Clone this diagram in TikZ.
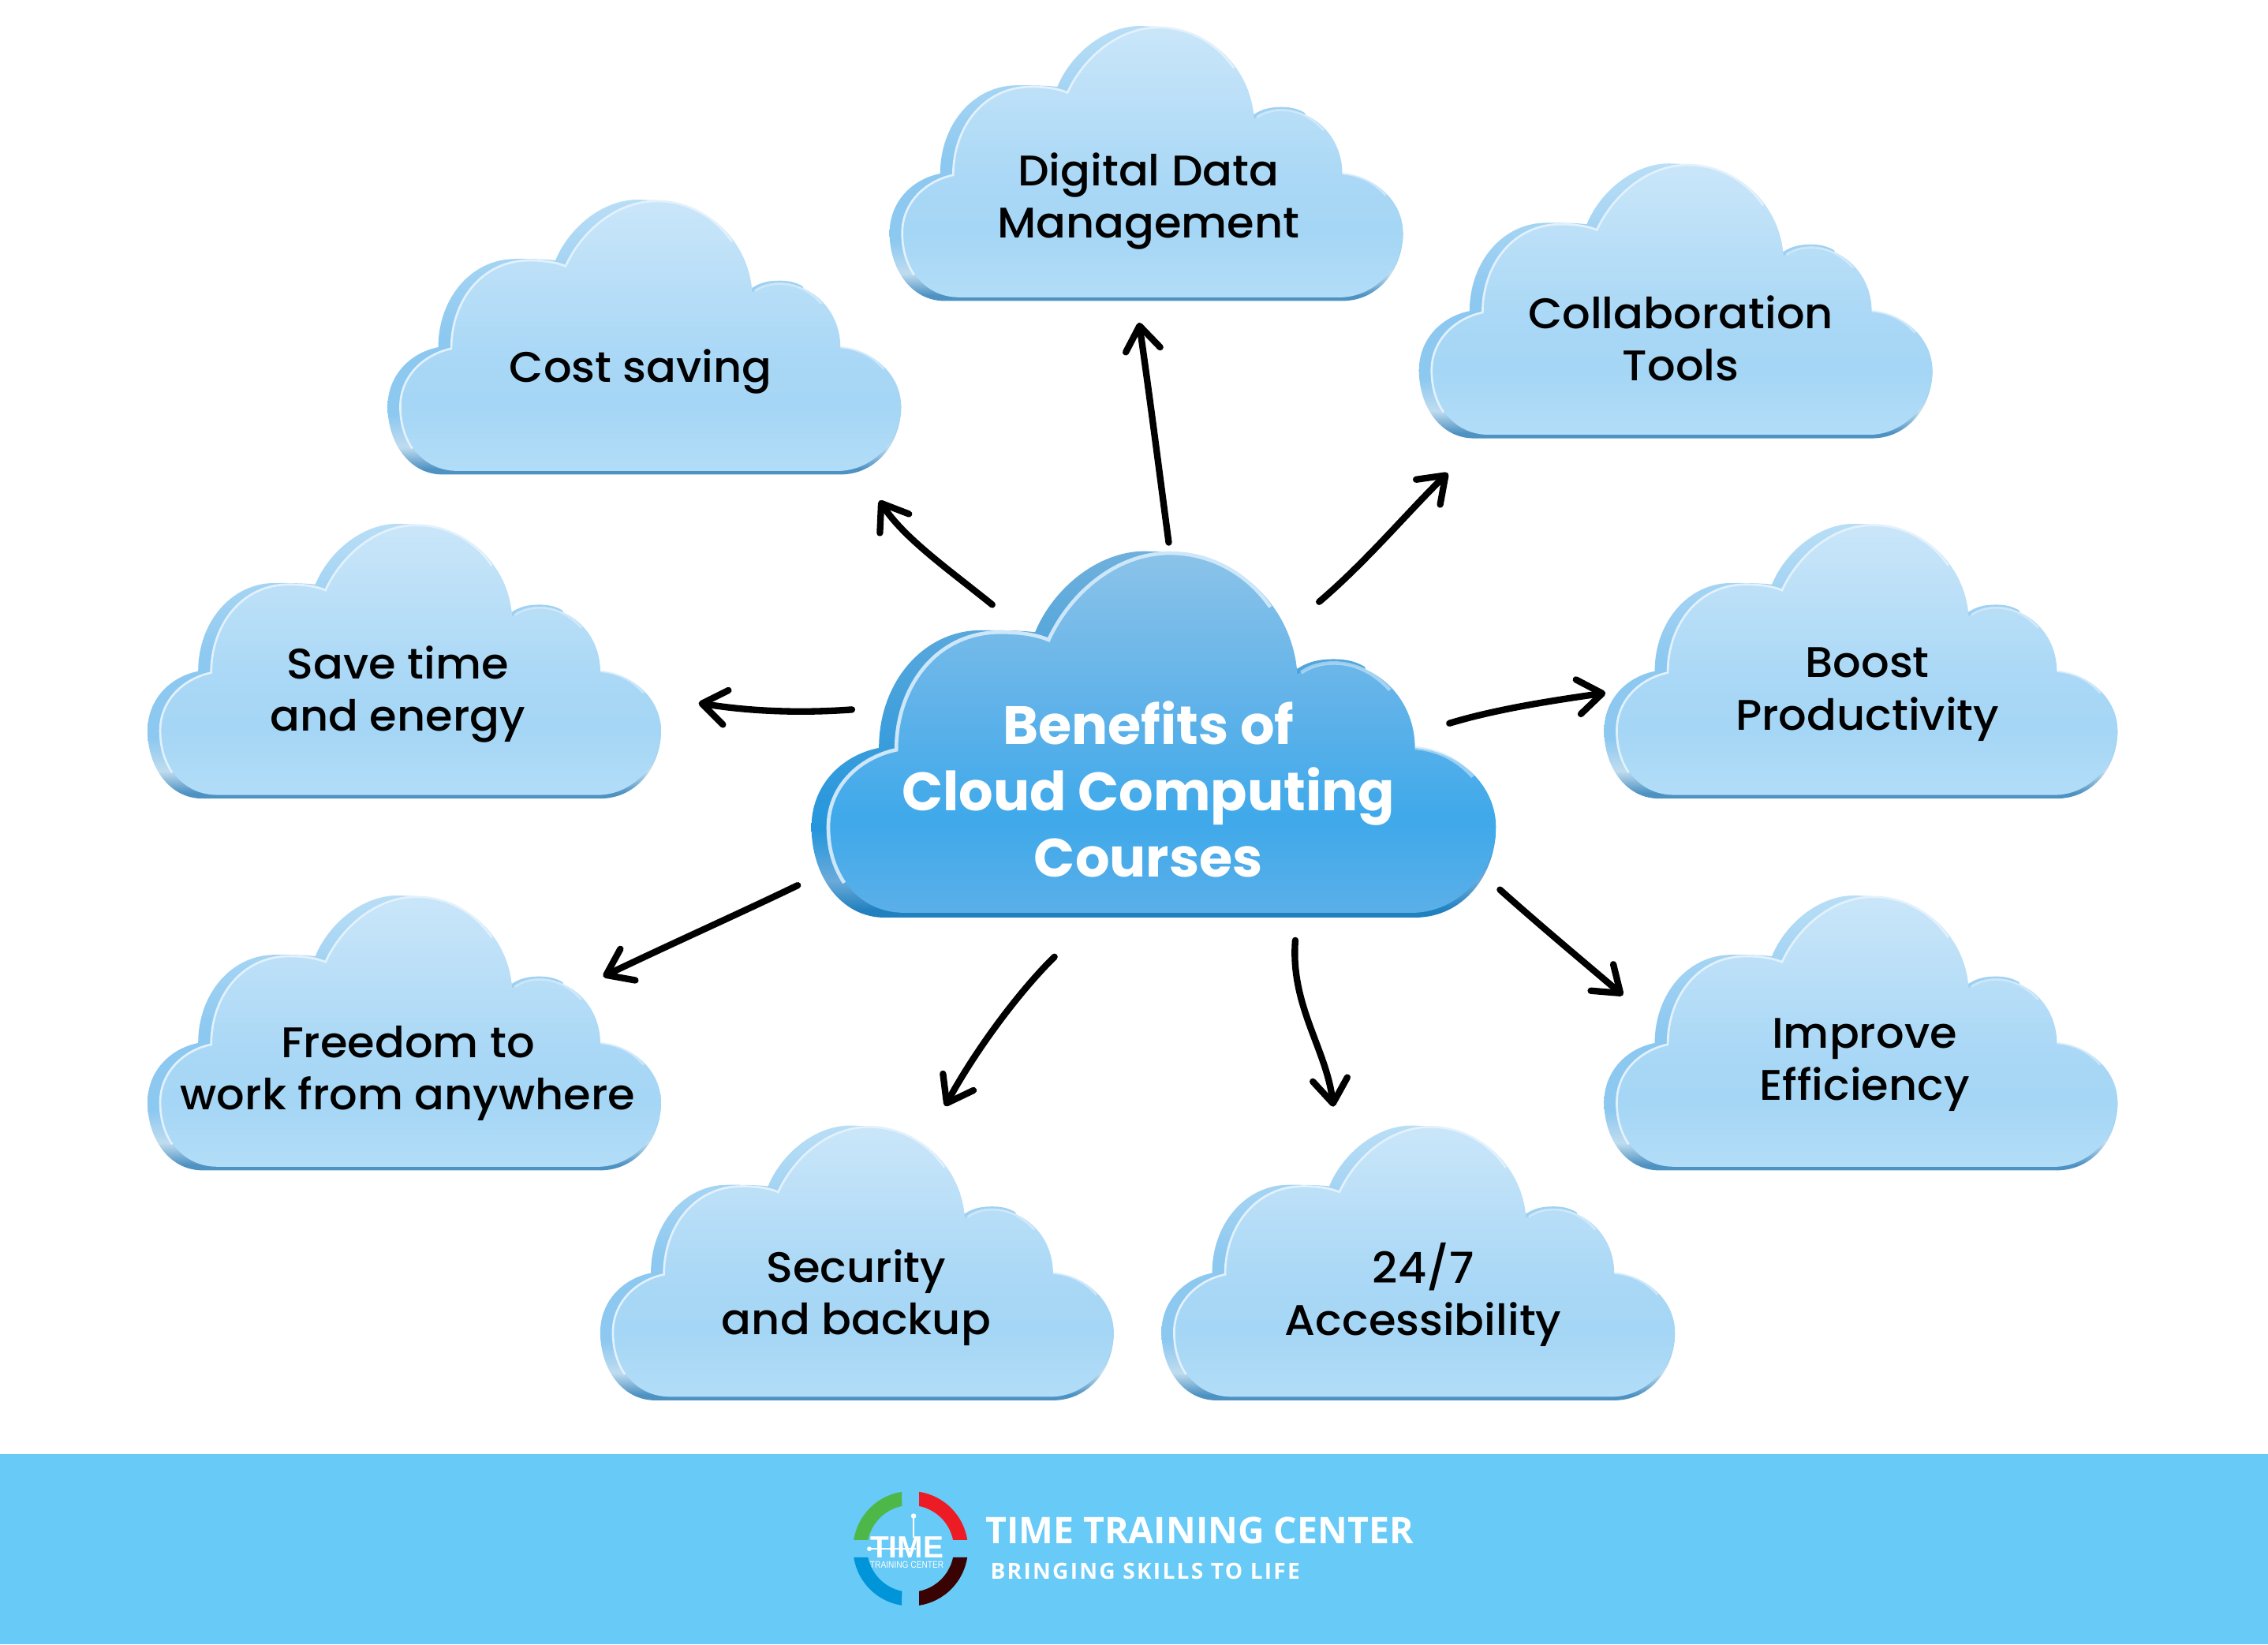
\documentclass[tikz,border=0pt]{standalone}
\usepackage{fontspec}
\usetikzlibrary{arrows.meta}
\setmainfont{Poppins Medium}[FakeStretch=1.03]
\newfontfamily\titlefont{Poppins Bold}
\newfontfamily\logofont{Open Sans}
\newfontfamily\markfont{Liberation Sans}

\definecolor{softa}{HTML}{CAE6F9}
\definecolor{softb}{HTML}{AAD8F6}
\definecolor{softc}{HTML}{A5D6F5}
\definecolor{softd}{HTML}{B2DDF8}
\definecolor{softrima}{HTML}{B9DEF6}
\definecolor{softrimb}{HTML}{8CC8F0}
\definecolor{softrimc}{HTML}{BFDCEF}
\definecolor{softrimd}{HTML}{4E92C2}
\definecolor{softedge}{HTML}{E2F1FC}
\definecolor{maina}{HTML}{8BC3E9}
\definecolor{mainb}{HTML}{62B3E9}
\definecolor{mainc}{HTML}{3FA9EA}
\definecolor{maind}{HTML}{5BAFE8}
\definecolor{mainrima}{HTML}{6FB0DC}
\definecolor{mainrimb}{HTML}{2596DC}
\definecolor{mainrimc}{HTML}{6AAAD9}
\definecolor{mainrimd}{HTML}{2180BE}
\definecolor{mainedge}{HTML}{CDE7F9}
\definecolor{bandblue}{HTML}{68CAF6}

\pgfdeclareverticalshading{softface}{100bp}{color(0bp)=(softd); color(25bp)=(softd); color(37bp)=(softc); color(47bp)=(softb); color(75bp)=(softa); color(100bp)=(softa)}
\pgfdeclareverticalshading{softrim}{100bp}{color(0bp)=(softrimd); color(25bp)=(softrimd); color(26bp)=(softrimd); color(30bp)=(softrimc); color(36bp)=(softrimb); color(50bp)=(softrimb); color(75bp)=(softrima); color(100bp)=(softrima)}
\pgfdeclareverticalshading{mainface}{100bp}{color(0bp)=(maind); color(25bp)=(maind); color(38bp)=(mainc); color(55bp)=(mainb); color(75bp)=(maina); color(100bp)=(maina)}
\pgfdeclareverticalshading{mainrim}{100bp}{color(0bp)=(mainrimd); color(25bp)=(mainrimd); color(26bp)=(mainrimd); color(30bp)=(mainrimc); color(37bp)=(mainrimb); color(50bp)=(mainrimb!70!mainrima); color(75bp)=(mainrima); color(100bp)=(mainrima)}

\tikzset{
  cloudtext/.style={align=center,inner sep=0pt,text=black,font=\fontsize{22.2pt}{27.2pt}\selectfont},
  maintext/.style={align=center,inner sep=0pt,text=white,font=\titlefont\fontsize{28pt}{34.3pt}\selectfont},
  flow/.style={line width=3.4pt,line cap=round,line join=round,-{Straight Barb[length=12.5pt,width=18pt,round]}},
  logotext/.style={anchor=west,inner sep=0pt,text=white},
  softline/.style={softedge,line width=1.1pt},
  mainline/.style={mainedge,line width=1.9pt},
}

% #1,#2 left top corner, #3 scale, #4 soft or main
\newcommand{\cloudblob}[4]{%
\begin{scope}[shift={(#1,#2)},scale=#3]
\shade[shading=#4rim] (38,190) .. controls (15,190) and (0,168) .. (0,143) .. controls (0,122) and (15,106) .. (35,102) .. controls (35,68) and (58,41) .. (88,41) .. controls (98,41) and (107,41) .. (116,42) .. controls (125,20) and (148,0) .. (173,0) -- (186,0.5) -- (230,40) -- (252,61) .. controls (258,57) and (264,56) .. (271,56) .. controls (277,56) and (282,57) .. (287,60) -- (300,100) -- (345,130) -- (355,143) .. controls (355,168) and (338,190) .. (313,190) -- cycle;
\shade[shading=#4face] (48,187.5) .. controls (25,187.5) and (8.75,168) .. (8.75,143) .. controls (8.75,122) and (25,107) .. (44,103) .. controls (44,70) and (65,42) .. (98,42) .. controls (107,42) and (116,43) .. (123,46) .. controls (134,22) and (158,1) .. (186,1) .. controls (222,1) and (250,30) .. (252,64) .. controls (258,60) and (264,58) .. (271,58) .. controls (295,58) and (313,78) .. (313,102) .. controls (337,104) and (355,122) .. (355,143) .. controls (355,166) and (336,186.5) .. (313,187.5) -- cycle;
\draw[#4line] (17,172) .. controls (11,163) and (8.75,153) .. (8.75,143) .. controls (8.75,122) and (25,107) .. (44,103) .. controls (44,70) and (65,42) .. (98,42) .. controls (107,42) and (116,43) .. (123,46) .. controls (134,22) and (158,1) .. (186,1) .. controls (205,1) and (225,10) .. (238,29);
\draw[#4line,opacity=.6] (254,63) .. controls (258,60) and (264,58) .. (271,58) .. controls (282,58) and (292,63) .. (300,72);
\draw[#4line,opacity=.6] (313,102) .. controls (325,103) and (335,108) .. (343,117);
\end{scope}}

\begin{document}
\begin{tikzpicture}[x=0.75pt,y=0.75pt,yscale=-1,xscale=1]
\useasboundingbox (0,0) rectangle (1568,1136.6);

%Clouds
\cloudblob{615}{18}{1}{soft}
\cloudblob{981}{113}{1}{soft}
\cloudblob{268}{138}{1}{soft}
\cloudblob{102}{362}{1}{soft}
\cloudblob{1109}{362}{1}{soft}
\cloudblob{102}{619}{1}{soft}
\cloudblob{1109}{619}{1}{soft}
\cloudblob{415}{778}{1}{soft}
\cloudblob{803}{778}{1}{soft}
\cloudblob{561}{381}{1.333}{main}

% Text Node
\node[maintext] (benefits) at (794,545.5) {Benefits of\\Cloud Computing\\Courses};
\node[cloudtext] (digital) at (794,139) {Digital Data\\Management};
\node[cloudtext] (collab) at (1162,234) {Collaboration\\Tools};
\node[cloudtext] (cost) at (443,257) {Cost saving};
\node[cloudtext] (savetime) at (275,480) {Save time\\and energy};
\node[cloudtext] (boost) at (1291,480) {Boost\\Productivity};
\node[cloudtext] (freedom) at (282,742) {Freedom to\\work from anywhere};
\node[cloudtext] (improve) at (1289,736) {Improve\\Efficiency};
\node[cloudtext] (security) at (592,897) {Security\\and backup};
\node[cloudtext] (access) at (984,895) {24/7\\Accessibility};

%Arrow ends
\coordinate (fromdigital) at (808,375);
\coordinate (todigital) at (787.5,223);
\coordinate (fromcollab) at (912,416);
\coordinate (tocollab) at (1001,327);
\coordinate (fromcost) at (686,418);
\coordinate (tocost) at (608,346);
\coordinate (fromsave) at (589,490.5);
\coordinate (tosave) at (483,486);
\coordinate (fromboost) at (1002,500);
\coordinate (toboost) at (1110,479);
\coordinate (fromfreedom) at (551.5,612);
\coordinate (tofreedom) at (417,675);
\coordinate (fromimprove) at (1037,615);
\coordinate (toimprove) at (1122,688);
\coordinate (fromsecurity) at (729,661.4);
\coordinate (tosecurity) at (653.4,764.6);
\coordinate (fromaccess) at (895.5,650);
\coordinate (toaccess) at (921.8,765);

%Curve Lines
\draw[flow] (fromdigital) .. controls (802,330) and (795,275) .. (todigital);
\draw[flow] (fromcollab) .. controls (945,388) and (975,352) .. (tocollab);
\draw[flow] (fromcost) .. controls (655,393) and (625,372) .. (tocost);
\draw[flow] (fromsave) .. controls (555,493) and (520,492) .. (tosave);
\draw[flow] (fromboost) .. controls (1035,490) and (1075,484) .. (toboost);
\draw[flow] (fromfreedom) .. controls (510,632) and (465,652) .. (tofreedom);
\draw[flow] (fromimprove) .. controls (1065,640) and (1095,665) .. (toimprove);
\draw[flow] (fromsecurity) .. controls (705,685) and (675,725) .. (tosecurity);
\draw[flow] (fromaccess) .. controls (892,695) and (917,725) .. (toaccess);

%Footer
\fill[bandblue] (0,1005) rectangle (1568,1136.6);
\begin{scope}[shift={(629.5,1070.5)}]
\foreach \ang/\col in {0/ED1C24,90/3A0303,180/0094D8,270/4DB748}{
  \definecolor{ringcol}{HTML}{\col}
  \fill[ringcol,rotate=\ang] (-81.3:39.7) arc (-81.3:-8.7:39.7) -- (-11.5:30) arc (-11.5:-78.5:30) -- cycle;
}
\end{scope}
\coordinate (handtop) at (631.6,1048);
\coordinate (handfoot) at (631.6,1063);
\coordinate (barleft) at (601,1070.7);
\coordinate (barright) at (633,1070.7);
\draw[white,line width=0.7pt] (handtop) -- (handfoot);
\draw[white,line width=0.7pt] (barleft) -- (barright);
\fill[white] (handtop) circle (1.8);
\fill[white] (barleft) circle (1.6);
\node[text=white,inner sep=0pt,font=\markfont\bfseries\fontsize{15.9pt}{16pt}\selectfont] (timemark) at (627,1069.5) {TIME};
\node[text=white,inner sep=0pt,font=\markfont\fontsize{4.9pt}{5pt}\selectfont] (trainmark) at (627,1081.5) {\scalebox{.85}[1]{TRAINING CENTER}};
\node[logotext,font=\logofont\bfseries\fontsize{19pt}{20pt}\selectfont] (centername) at (681,1058) {TIME TRAINING CENTER};
\node[logotext,font=\logofont\bfseries\fontsize{11.5pt}{12pt}\selectfont\addfontfeature{LetterSpace=8}] (slogan) at (684.5,1086) {BRINGING SKILLS TO LIFE};

\end{tikzpicture}
\end{document}
